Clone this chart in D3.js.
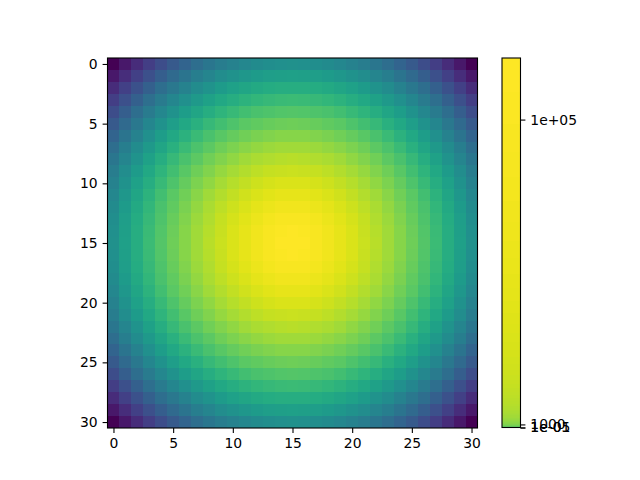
<!DOCTYPE html>
<html><head><meta charset="utf-8">
<script src="https://cdn.jsdelivr.net/npm/d3@7"></script>
<style>body{margin:0;background:#fff}svg{display:block}text{font-family:"DejaVu Sans";font-size:13.9px;fill:#000}</style>
</head><body>
<svg id="c" width="640" height="480"></svg>
<script>
// Grid rows/cols 0..30; value of a cell = peak * rowProfile[r] * colProfile[c]
const peakValue = 120000;
const rowProfile = [3.73e-6,1.867e-5,8.37e-5,3.355e-4,1.204e-3,3.866e-3,0.01111,0.02857,0.06573,0.1353,0.2494,0.4111,0.6065,0.8007,0.9460,1,
  0.9460,0.8007,0.6065,0.4111,0.2494,0.1353,0.06573,0.02857,0.01111,3.866e-3,1.204e-3,3.355e-4,8.37e-5,1.867e-5,3.73e-6];
const colProfile = [3.73e-6,1.867e-5,8.37e-5,3.355e-4,1.204e-3,3.866e-3,0.01111,0.02857,0.06573,0.1353,0.2494,0.4111,0.6065,0.8007,0.9460,1,
  0.9460,0.8007,0.6065,0.4111,0.2494,0.1353,0.06573,0.02857,0.01111,3.866e-3,1.204e-3,3.355e-4,8.37e-5,1.867e-5,3.73e-6];
const axisTicks = [0,5,10,15,20,25,30];
const cbTickValues = [1e-5, 1e-1, 1e3, 1e5];
const cbTickLabels = ["1e-05","1e-01","1000","1e+05"];

const svg = d3.select("#c");
const L = 107.5, R = 477.5, T = 58, B = 428;
const cells = [];
rowProfile.forEach((rp, r) => colProfile.forEach((cp, c) => cells.push({r, c, v: peakValue * rp * cp})));
const vmin = d3.min(cells, d => d.v), vmax = d3.max(cells, d => d.v);
const norm = d3.scaleLog().domain([vmin, vmax]).range([0, 1]).clamp(true);
const color = v => d3.interpolateViridis(norm(v));

const n = rowProfile.length;
const x = d3.scaleLinear().domain([-0.5, n - 0.5]).range([L, R]);
const y = d3.scaleLinear().domain([-0.5, n - 0.5]).range([T, B]);

svg.append("g").selectAll("rect").data(cells).join("rect")
  .attr("x", d => x(d.c - 0.5)).attr("y", d => y(d.r - 0.5))
  .attr("width", x(1) - x(0) + 0.4).attr("height", y(1) - y(0) + 0.4)
  .attr("fill", d => color(d.v)).attr("shape-rendering", "crispEdges");

svg.append("rect").attr("x", L).attr("y", T).attr("width", R - L).attr("height", B - T)
  .attr("fill", "none").attr("stroke", "#000").attr("stroke-width", 1.1);

const xa = svg.append("g").attr("transform", `translate(0,${B})`)
  .call(d3.axisBottom(x).tickValues(axisTicks).tickSize(4.9).tickPadding(4.9));
const ya = svg.append("g").attr("transform", `translate(${L},0)`)
  .call(d3.axisLeft(y).tickValues(axisTicks).tickSize(4.9).tickPadding(4.9));
[xa, ya].forEach(a => {
  a.select(".domain").remove();
  a.selectAll("line").attr("stroke", "#000").attr("stroke-width", 1.1);
  a.selectAll("text").attr("font-family", "DejaVu Sans").attr("font-size", "13.9px").attr("fill", "#000");
});

// Colorbar
const cL = 502, cR = 520.5, cT = 58, cB = 427.5;
const cy = d3.scaleLinear().domain([vmin, vmax]).range([cB, cT]);
const strips = d3.range(cT, cB, 1);
svg.append("g").selectAll("rect").data(strips).join("rect")
  .attr("x", cL).attr("y", d => d).attr("width", cR - cL).attr("height", 1.05)
  .attr("fill", d => color(cy.invert(d + 0.5))).attr("shape-rendering", "crispEdges");
svg.append("rect").attr("x", cL).attr("y", cT).attr("width", cR - cL).attr("height", cB - cT)
  .attr("fill", "none").attr("stroke", "#000").attr("stroke-width", 1.1);
const ca = svg.append("g").attr("transform", `translate(${cR},0)`)
  .call(d3.axisRight(cy).tickValues(cbTickValues).tickSize(4.9).tickPadding(4.9)
    .tickFormat((d, i) => cbTickLabels[i]));
ca.select(".domain").remove();
ca.selectAll("line").attr("stroke", "#000").attr("stroke-width", 1.1);
ca.selectAll("text").attr("font-family", "DejaVu Sans").attr("font-size", "13.9px").attr("fill", "#000");
</script>
</body></html>
